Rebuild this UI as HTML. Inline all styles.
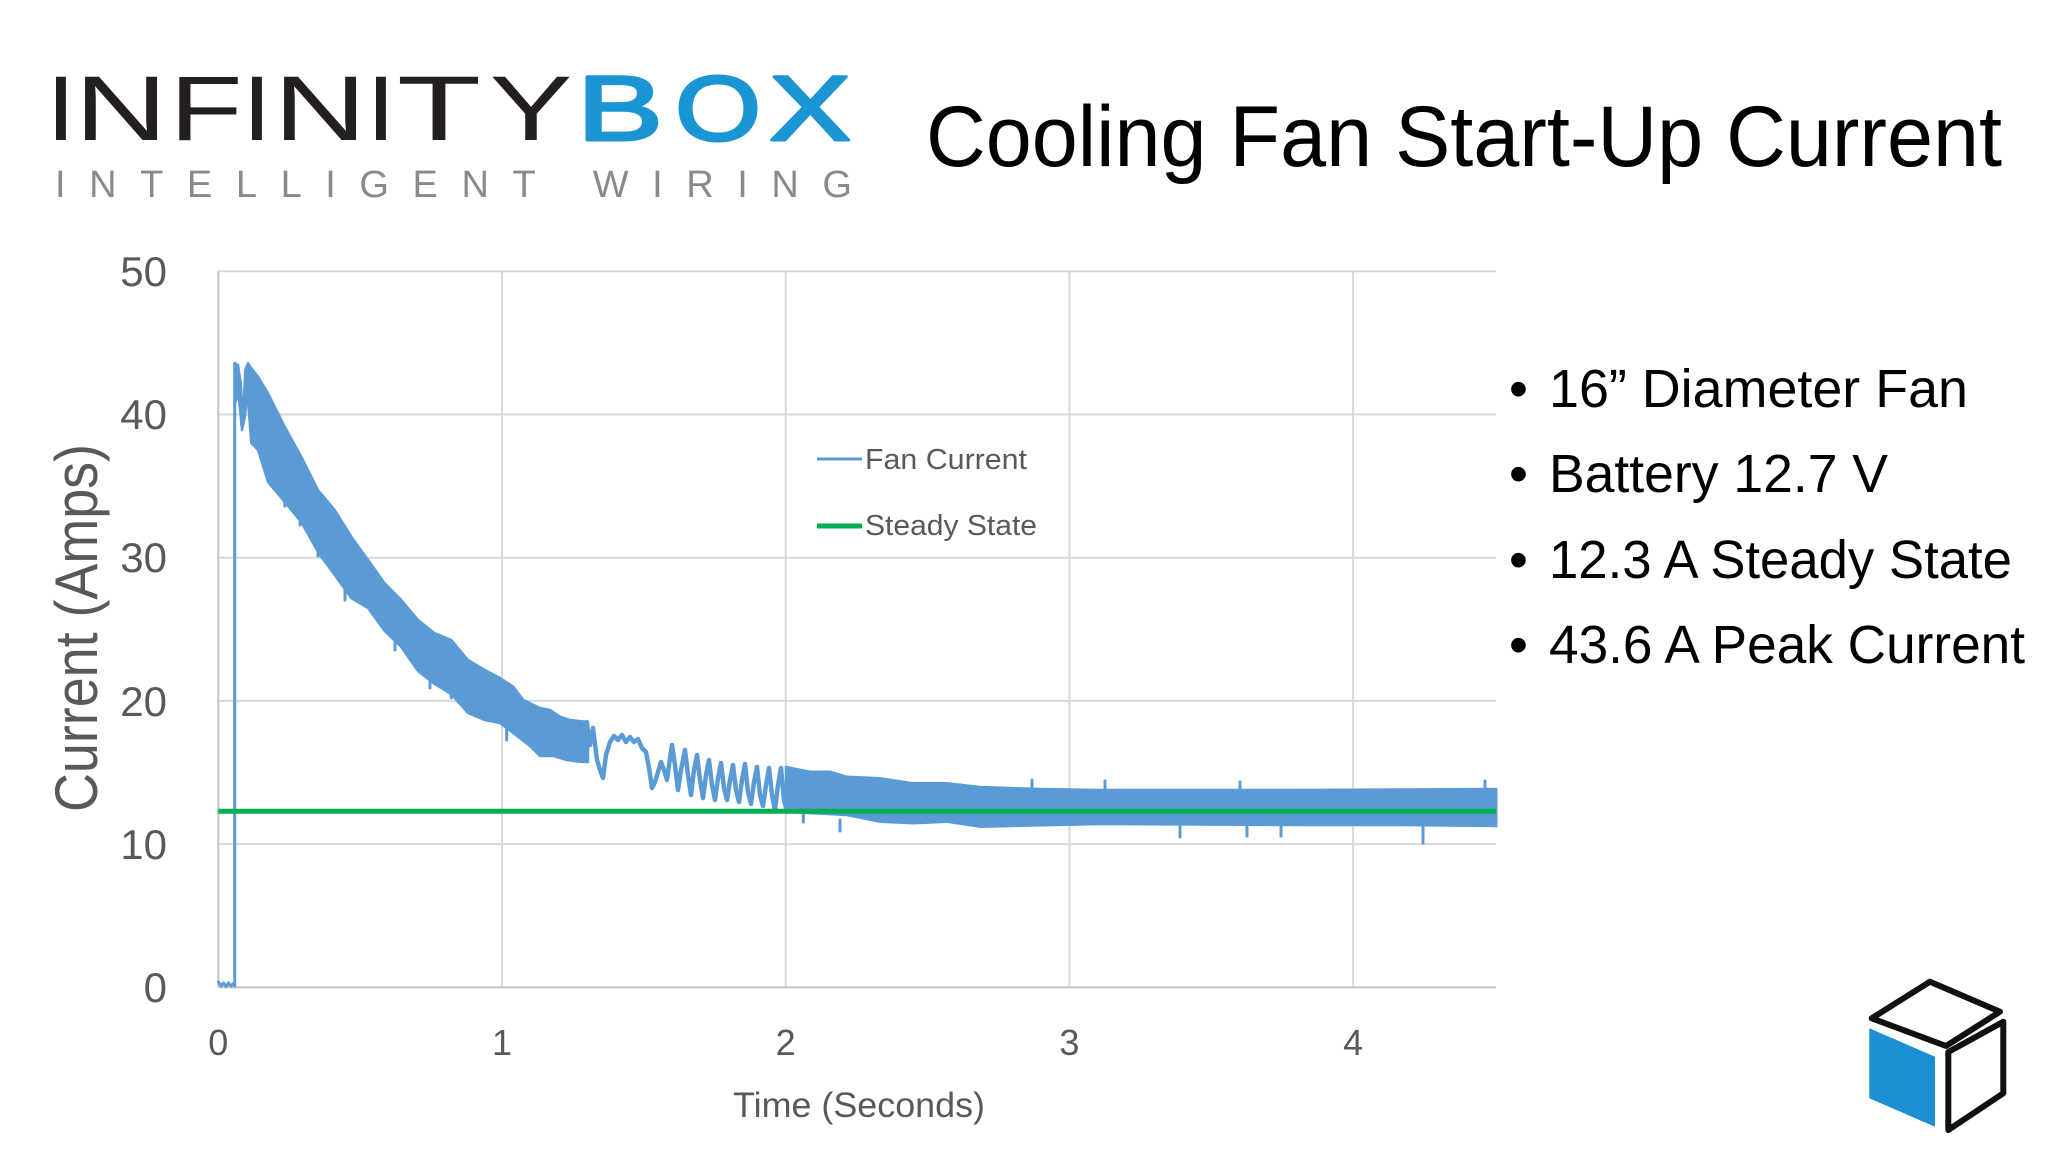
<!DOCTYPE html>
<html>
<head>
<meta charset="utf-8">
<style>
  html, body { margin:0; padding:0; background:#ffffff; }
  body { width:2048px; height:1152px; overflow:hidden; }
  svg { display:block; }
  text { font-family: "Liberation Sans", "DejaVu Sans", sans-serif; }
</style>
</head>
<body>
<svg width="2048" height="1152" viewBox="0 0 2048 1152" xmlns="http://www.w3.org/2000/svg">
  <rect x="0" y="0" width="2048" height="1152" fill="#ffffff"/>

  <!-- ===== Logo: INFINITY ===== -->
  <g font-size="92" fill="#231f20" text-anchor="middle">
    <text transform="translate(61,140) scale(1.15,1)">I</text>
    <text transform="translate(121,140) scale(1.4,1)">N</text>
    <text transform="translate(206,140) scale(1.3,1)">F</text>
    <text transform="translate(257,140) scale(1.15,1)">I</text>
    <text transform="translate(320,140) scale(1.4,1)">N</text>
    <text transform="translate(381,140) scale(1.15,1)">I</text>
    <text transform="translate(439,140) scale(1.5,1)">T</text>
    <text transform="translate(531,140) scale(1.35,1)">Y</text>
  </g>
  <!-- BOX -->
  <g font-size="92" fill="#1b95d3" stroke="#1b95d3" stroke-width="3" stroke-linejoin="round" text-anchor="middle">
    <text transform="translate(620,140) scale(1.4,1)">B</text>
    <text transform="translate(718,140) scale(1.2,1)">O</text>
    <text transform="translate(810,140) scale(1.33,1)">X</text>
  </g>
  <text x="55" y="197" font-size="38" fill="#8a8a8c" textLength="797" lengthAdjust="spacing">INTELLIGENT WIRING</text>

  <!-- ===== Title ===== -->
  <text x="926" y="166" font-size="86" fill="#000000" textLength="1076" lengthAdjust="spacingAndGlyphs">Cooling Fan Start-Up Current</text>

  <!-- ===== Gridlines ===== -->
  <g stroke="#d9d9d9" stroke-width="2" fill="none">
    <line x1="218.3" y1="271.3" x2="1496" y2="271.3"/>
    <line x1="218.3" y1="414.5" x2="1496" y2="414.5"/>
    <line x1="218.3" y1="557.7" x2="1496" y2="557.7"/>
    <line x1="218.3" y1="700.9" x2="1496" y2="700.9"/>
    <line x1="218.3" y1="844.1" x2="1496" y2="844.1"/>
    <line x1="502" y1="271.3" x2="502" y2="987.3"/>
    <line x1="785.7" y1="271.3" x2="785.7" y2="987.3"/>
    <line x1="1069.4" y1="271.3" x2="1069.4" y2="987.3"/>
    <line x1="1353.1" y1="271.3" x2="1353.1" y2="987.3"/>
  </g>
  <g stroke="#c6c6c6" stroke-width="2.2" fill="none">
    <line x1="218.3" y1="271.3" x2="218.3" y2="987.3"/>
    <line x1="218.3" y1="987.3" x2="1496" y2="987.3"/>
  </g>

  <!-- ===== Y tick labels ===== -->
  <g font-size="42" fill="#595959" text-anchor="end">
    <text x="167" y="286">50</text>
    <text x="167" y="429">40</text>
    <text x="167" y="572">30</text>
    <text x="167" y="716">20</text>
    <text x="167" y="859">10</text>
    <text x="167" y="1002">0</text>
  </g>
  <!-- ===== X tick labels ===== -->
  <g font-size="36" fill="#595959" text-anchor="middle">
    <text x="218.3" y="1055">0</text>
    <text x="502" y="1055">1</text>
    <text x="785.7" y="1055">2</text>
    <text x="1069.4" y="1055">3</text>
    <text x="1353.1" y="1055">4</text>
  </g>

  <!-- Axis titles -->
  <text x="733" y="1117" font-size="35" fill="#595959" textLength="252" lengthAdjust="spacingAndGlyphs">Time (Seconds)</text>
  <text transform="translate(97,812) rotate(-90)" x="0" y="0" font-size="60" fill="#595959" textLength="368" lengthAdjust="spacingAndGlyphs">Current (Amps)</text>

  <!-- ===== Fan current series ===== -->
  <g fill="#5b9bd5" stroke="#5b9bd5" stroke-linejoin="round">
    <!-- early band -->
    <polygon stroke-width="2.5" points="
      234.7,363.3 238,365 240.7,383 243,420 245.3,370 248,363.3 251.3,368.3 258,376.7 268,393.3 284.7,426.7
      301.3,456.7 318,490 334.7,510 351.3,536.7 368,560 384.7,583.3 401.3,600 418,620 434.7,633.3 451.3,640
      468,660 484.7,670 500,678 513.3,686.7 523.3,700 540,708 550,710 560,716.7 570,720 588,722
      588,762 580,761.7 566.7,760 553.3,756 540,756 530,746 513.3,733 500,723 484.7,720 468,713
      451.3,694 434.7,684 418,671 401.3,647 384.7,631 368,608 351.3,598 334.7,575 318,552 301.3,522
      284.7,502 268,482 258,450 251.3,443 247.3,392 244.7,418 242,430 238.7,395 235.3,402"/>
    <!-- later band -->
    <polygon stroke-width="2.5" points="
      786,767 810,771.7 830,771.7 846.7,776.7 880,778.3 913.3,783.3 946.7,783.3 980,787 1040,789 1100,790
      1200,790 1300,790 1400,789.5 1496,789
      1496,826 1400,825 1300,825 1200,824.5 1100,824 980,826.7 946.7,821.7 913.3,823.3 880,821.7 846.7,815
      813.3,813.3 786,812"/>
  </g>
  <g fill="none" stroke="#5b9bd5" stroke-linejoin="round" stroke-linecap="round">
    <!-- baseline and spike -->
    <polyline stroke-width="3" points="218.5,982 221,986 223.5,983 226,986.5 228.5,983 231,986 233.5,983.5 234.7,986 234.7,363.3"/>
    <!-- oscillation region -->
    <polyline stroke-width="4.5" points="
      586.7,722 590,745 593,728 597,760 600,770 603,778 606,755 610,742 614,736 618,740 622,735 626,742 630,737
      634,742 638,739 642,748 646,752 649,768 652,788 655,782 658,772 661,762 664,770 667,780 670,758 672,745
      675,765 678,790 681,770 685,750 688,775 691,795 694,770 697,755 700,780 703,798 706,775 709,760 712,785
      715,800 718,778 721,763 724,788 727,800 730,780 733,765 736,790 739,802 742,780 745,764 748,792 751,804
      754,782 757,767 760,795 763,806 766,785 769,768 772,795 775,810 778,785 781,768 784,800 787,812 790,790"/>
    <!-- noise texture in early/mid band -->
    <polyline stroke-width="3" points="506.7,722 506.7,740"/>
    <polyline stroke-width="3" points="318,540 318,556"/>
    <polyline stroke-width="3" points="284.7,490 284.7,506"/>
    <polyline stroke-width="3" points="451.3,685 451.3,698"/>
    <polyline stroke-width="3" points="262,440 262,455"/>
    <polyline stroke-width="3" points="300,512 300,525"/>
    <polyline stroke-width="3" points="345,585 345,600"/>
    <polyline stroke-width="3" points="395,636 395,650"/>
    <polyline stroke-width="3" points="430,675 430,688"/>
    <!-- spikes in steady region -->
    <polyline stroke-width="3" points="803.3,812 803.3,822"/>
    <polyline stroke-width="3" points="840,820 840,831"/>
    <polyline stroke-width="3" points="1032,790 1032,780"/>
    <polyline stroke-width="3" points="1180,824 1180,837"/>
    <polyline stroke-width="3" points="1247,824 1247,836"/>
    <polyline stroke-width="3" points="1281,824 1281,836"/>
    <polyline stroke-width="3" points="1423,825 1423,843"/>
    <polyline stroke-width="3" points="1105,790 1105,781"/>
    <polyline stroke-width="3" points="1240,790 1240,782"/>
    <polyline stroke-width="3" points="1485,789 1485,781"/>
    <polyline stroke-width="3" points="1496,790 1496,826"/>
  </g>

  <!-- Steady state line -->
  <line x1="218.3" y1="811.2" x2="1496" y2="811.2" stroke="#00b050" stroke-width="5"/>

  <!-- ===== Legend ===== -->
  <line x1="817" y1="459" x2="862" y2="459" stroke="#5b9bd5" stroke-width="3"/>
  <text x="865" y="469" font-size="29" fill="#595959" textLength="162" lengthAdjust="spacingAndGlyphs">Fan Current</text>
  <line x1="817" y1="526" x2="862" y2="526" stroke="#00b050" stroke-width="5"/>
  <text x="865" y="535" font-size="29" fill="#595959" textLength="172" lengthAdjust="spacingAndGlyphs">Steady State</text>

  <!-- ===== Bullets ===== -->
  <g font-size="54" fill="#000000">
    <text x="1509" y="407">•</text>
    <text x="1549" y="407" textLength="419" lengthAdjust="spacingAndGlyphs">16” Diameter Fan</text>
    <text x="1509" y="492">•</text>
    <text x="1549" y="492" textLength="339" lengthAdjust="spacingAndGlyphs">Battery 12.7 V</text>
    <text x="1509" y="578">•</text>
    <text x="1549" y="578" textLength="463" lengthAdjust="spacingAndGlyphs">12.3 A Steady State</text>
    <text x="1509" y="663">•</text>
    <text x="1549" y="663" textLength="476" lengthAdjust="spacingAndGlyphs">43.6 A Peak Current</text>
  </g>

  <!-- ===== Cube logo ===== -->
  <polygon points="1869.3,1028.3 1935,1056.7 1935,1126.7 1869.3,1098.3" fill="#1b8fd2"/>
  <g fill="none" stroke="#111111" stroke-width="6" stroke-linejoin="round" stroke-linecap="round">
    <polygon points="1871.7,1018.3 1930,981.7 2000,1011.7 1946,1046"/>
    <polygon points="1948.3,1052 2003.3,1021.7 2003.3,1093.3 1948.3,1130"/>
  </g>
</svg>
</body>
</html>
